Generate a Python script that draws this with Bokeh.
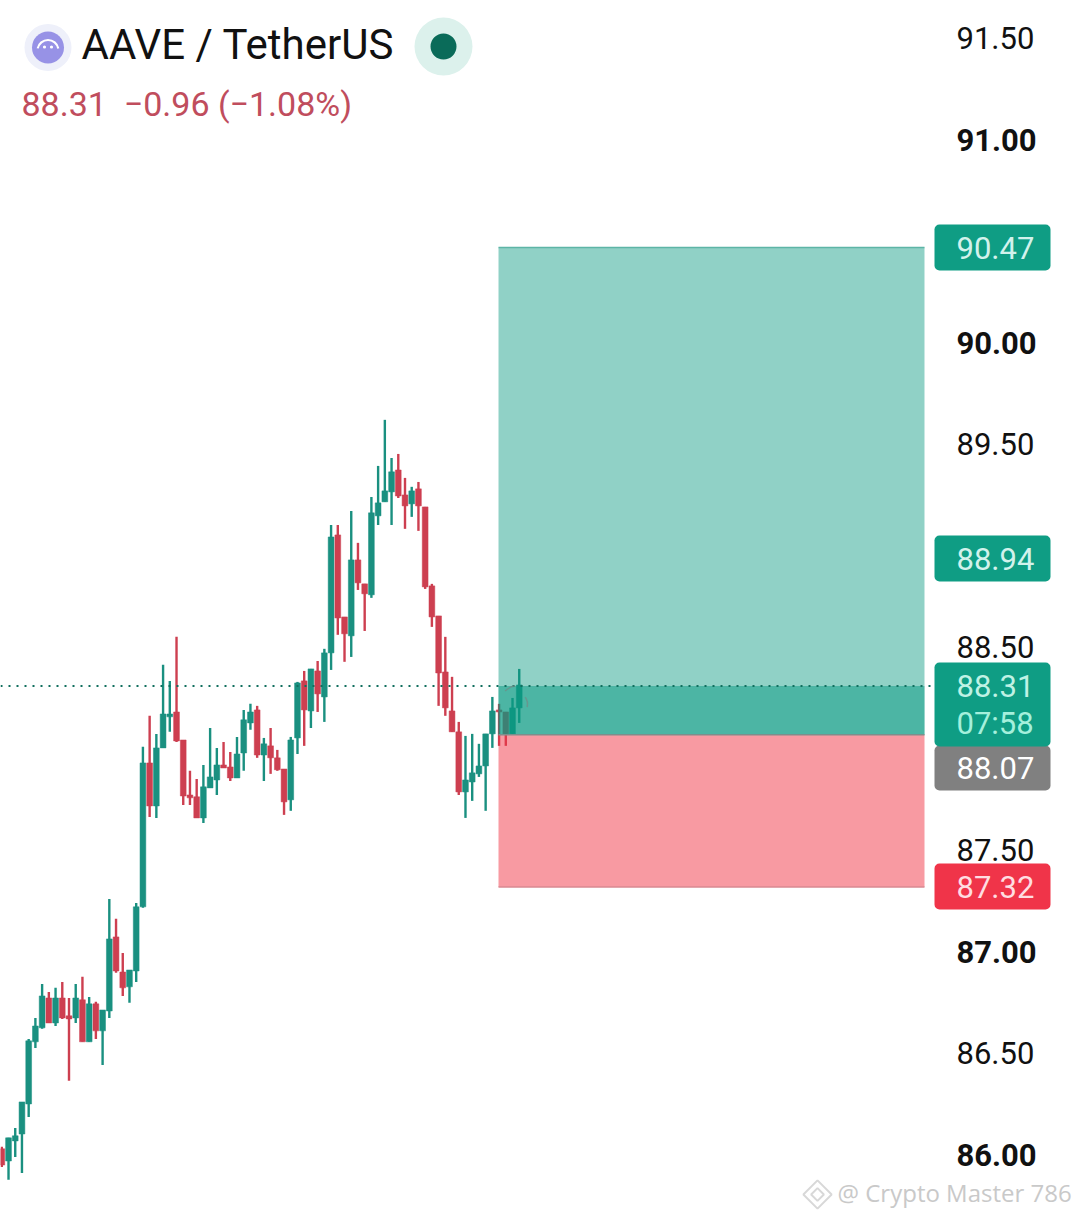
from math import pi
from bokeh.plotting import figure
from bokeh.models import Range1d, BoxAnnotation
from bokeh.core.properties import value
from bokeh.embed import file_html
from bokeh.resources import INLINE

opens = [86.03,85.970,86.069,86.103,86.251,86.557,86.626,86.773,86.650,86.773,86.685,86.675,86.764,86.557,86.744,86.611,86.709,87.074,86.901,86.828,
 86.906,87.222,87.931,87.719,88.005,88.158,88.182,88.044,87.773,87.764,87.660,87.808,87.847,87.921,87.911,87.857,87.980,88.128,88.192,87.970,
 88.015,87.956,87.901,87.749,88.054,88.335,88.187,88.384,88.256,88.473,89.054,88.650,88.557,88.931,88.813,88.759,89.148,89.217,89.266,89.374,
 89.251,89.207,89.281,89.192,88.803,88.655,88.379,88.187,88.084,87.788,87.837,87.877,87.916,88.074,88.192,88.182,88.074,88.202]
highs = [86.04,86.084,86.133,86.261,86.571,86.675,86.842,86.803,86.823,86.852,86.773,86.842,86.877,86.778,86.754,86.714,87.261,87.163,86.995,86.911,
 87.241,88.010,88.163,88.074,88.414,88.335,88.552,88.044,87.892,87.852,87.921,88.103,88.005,88.034,87.985,88.059,88.192,88.222,88.212,88.054,
 88.103,87.995,87.901,88.059,88.330,88.384,88.394,88.433,88.493,89.103,89.103,88.650,89.172,89.015,88.813,89.241,89.394,89.621,89.433,89.453,
 89.335,89.291,89.315,89.192,88.813,88.655,88.552,88.355,88.133,88.064,88.074,88.025,88.074,88.256,88.222,88.182,88.251,88.394]
lows = [85.94,85.877,85.990,85.911,86.187,86.527,86.621,86.650,86.635,86.670,86.365,86.650,86.557,86.557,86.571,86.443,86.675,86.897,86.783,86.749,
 86.852,87.217,87.665,87.660,88.005,88.084,88.034,87.724,87.724,87.660,87.635,87.808,87.773,87.906,87.842,87.857,87.892,88.094,87.956,87.842,
 87.877,87.892,87.675,87.695,87.975,88.015,88.103,88.182,88.133,88.389,88.562,88.429,88.453,88.783,88.581,88.744,89.103,89.217,89.103,89.236,
 89.084,89.143,89.074,88.788,88.601,88.212,88.163,88.084,87.773,87.660,87.744,87.862,87.695,88.005,88.015,88.015,88.074,88.128]
closes = [85.95,86.084,86.094,86.261,86.562,86.635,86.783,86.650,86.773,86.675,86.670,86.773,86.557,86.744,86.611,86.714,87.064,86.906,86.823,86.911,
 87.222,87.931,87.719,88.005,88.172,88.172,88.039,87.768,87.759,87.660,87.813,87.862,87.921,87.906,87.857,87.975,88.143,88.182,87.970,88.025,
 87.956,87.897,87.739,88.044,88.325,88.192,88.394,88.271,88.473,89.044,88.645,88.567,88.931,88.818,88.764,89.163,89.212,89.271,89.365,89.246,
 89.197,89.271,89.197,88.798,88.650,88.374,88.202,88.084,87.788,87.847,87.882,87.916,88.074,88.187,88.182,88.074,88.202,88.315]

tick_regular = [86.5, 87.5, 88.5, 89.5, 91.5]
tick_bold = [86.0, 87.0, 90.0, 91.0]
last_price = 88.31
entry_price = 88.07
target_price = 90.47
stop_price = 87.32
mid_target = 88.94
title_text = "AAVE / TetherUS"
quote_text = "88.31\u00a0\u00a0\u22120.96 (\u22121.08%)"
countdown = "07:58"
watermark = "@ Crypto Master 786"

W, H = 1080, 1218
X0, DX = 1.3, 6.72          # pixel of bar 0, pixels per bar
PX_PER_UNIT = 203.0
Y86 = 1154.4                # pixel of price 86


def xd(px):
    return (px - X0) / DX


def yd(py):
    return 86 + (Y86 - py) / PX_PER_UNIT


GREEN = "#1A9080"
RED = "#CD3F50"
TAG_GREEN = "#0F9D84"
TAG_RED = "#F03449"
TAG_GREY = "#808080"

p = figure(width=W, height=H, x_range=Range1d(xd(0), xd(W)), y_range=Range1d(yd(H), yd(0)),
           output_backend="svg", toolbar_location=None, min_border=0)
p.styles = {"position": "absolute", "left": "0px", "top": "0px"}
p.axis.visible = False
p.grid.visible = False
p.outline_line_color = None
p.background_fill_color = "#FFFFFF"
p.border_fill_color = "#FFFFFF"

# candles
idx = list(range(len(opens)))
colors = [GREEN if c >= o else RED for o, c in zip(opens, closes)]
p.segment(idx, highs, idx, lows, color=colors, line_width=2.4)
p.vbar(x=idx, width=0.86, top=[max(a, b) for a, b in zip(opens, closes)],
       bottom=[min(a, b) for a, b in zip(opens, closes)], fill_color=colors, line_color=colors, line_width=0.5)

# position tool
bx0, bx1 = xd(498), xd(924)
p.quad(left=[bx0], right=[bx1], bottom=[entry_price], top=[target_price], fill_color="#089981", fill_alpha=0.45, line_color=None)
p.quad(left=[bx0], right=[bx1], bottom=[stop_price], top=[entry_price], fill_color="#F23645", fill_alpha=0.5, line_color=None)
p.quad(left=[bx0], right=[bx1], bottom=[entry_price], top=[last_price], fill_color="#089981", fill_alpha=0.5, line_color=None)
p.segment([bx0], [target_price], [bx1], [target_price], color="#5DB5A6", line_width=1.5)
p.segment([bx0], [entry_price], [bx1], [entry_price], color="#7C8F8C", line_width=1.5)
p.segment([bx0], [stop_price], [bx1], [stop_price], color="#D98890", line_width=1.5)

# last price line
p.segment([xd(0)], [last_price], [xd(932)], [last_price], color="#116F5E", line_width=2, line_dash="2 6")

# faint drawing marks around the newest bar
p.arc([xd(518)], [yd(704)], radius=19, radius_units="screen", start_angle=1.75, end_angle=2.35, color="#6E8F88", line_width=1.5, line_alpha=0.8)
p.arc([xd(514)], [yd(704)], radius=13, radius_units="screen", start_angle=-0.2, end_angle=0.6, color="#6E8F88", line_width=1.5, line_alpha=0.8)


# price tags
def tag(top_py, bot_py, color):
    p.add_layout(BoxAnnotation(left=934, right=1050, left_units="screen", right_units="screen",
                               top=yd(top_py), bottom=yd(bot_py),
                               fill_color=color, fill_alpha=1, line_color=None, border_radius=5, level="annotation"))


tag(224, 270, TAG_GREEN)
tag(535, 581, TAG_GREEN)
tag(745, 790, TAG_GREY)
tag(662, 746, TAG_GREEN)
tag(863, 909, TAG_RED)

font = value("Roboto")
tx = xd(956)
p.text([tx] * len(tick_regular), tick_regular, text=[f"{v:.2f}" for v in tick_regular], text_font=font,
       text_font_size="31px", text_color="#111111", text_baseline="middle", text_align="left", level="underlay")
p.text([tx] * len(tick_bold), tick_bold, text=[f"{v:.2f}" for v in tick_bold], text_font=font,
       text_font_size="31px", text_font_style="bold", text_color="#111111", text_baseline="middle", text_align="left", level="underlay")

# tag labels
tag_text = [target_price, mid_target, last_price, entry_price, stop_price]
tag_y = [yd(247), yd(558), yd(685), yd(767), yd(886)]
tag_cols = ["#D2F2EC", "#D2F2EC", "#BFF2E4", "#FFFFFF", "#FFDDE1"]
p.text([tx] * 5, tag_y, text=[f"{v:.2f}" for v in tag_text], text_font=font, text_font_size="31px",
       text_color=tag_cols, text_baseline="middle", text_align="left", level="overlay")
p.text([tx], [yd(723)], text=[countdown], text_font=font, text_font_size="31px", text_color="#A5F0DC",
       text_baseline="middle", text_align="left", level="overlay")

# header
p.scatter([xd(47.5)], [yd(47)], size=47, color="#EEF0FA", line_color=None)
p.scatter([xd(47.5)], [yd(47)], size=32, color="#9792E6", line_color=None)
p.arc([xd(47.5)], [yd(50)], radius=10.5, radius_units="screen", start_angle=0.2, end_angle=2.94, color="#FFFFFF", line_width=2.2)
p.scatter([xd(44), xd(51)], [yd(46.5)] * 2, size=3.2, color="#FFFFFF", line_color=None)
p.text([xd(81)], [yd(44)], text=[title_text], text_font=font, text_font_size="42px", text_color="#111111",
       text_baseline="middle", text_align="left")
p.scatter([xd(443)], [yd(46)], size=58, color="#DCF1EC", line_color=None)
p.scatter([xd(443)], [yd(46)], size=26, color="#0A6B59", line_color=None)
p.text([xd(21)], [yd(103)], text=[quote_text], text_font=font, text_font_size="34px", text_color="#C04D5D",
       text_baseline="middle", text_align="left")

# watermark
p.scatter([xd(817)], [yd(1194)], size=20, marker="square", angle=pi / 4, fill_color=None, line_color="#D8D8D8", line_width=2)
p.scatter([xd(817)], [yd(1194)], size=9, marker="square", angle=pi / 4, fill_color=None, line_color="#D8D8D8", line_width=2)
p.text([xd(837)], [yd(1192)], text=[watermark], text_font=value("Open Sans"), text_font_size="24px",
       text_color="#C9C9C9", text_baseline="middle", text_align="left")

open("out.html", "w").write(file_html(p, INLINE))
